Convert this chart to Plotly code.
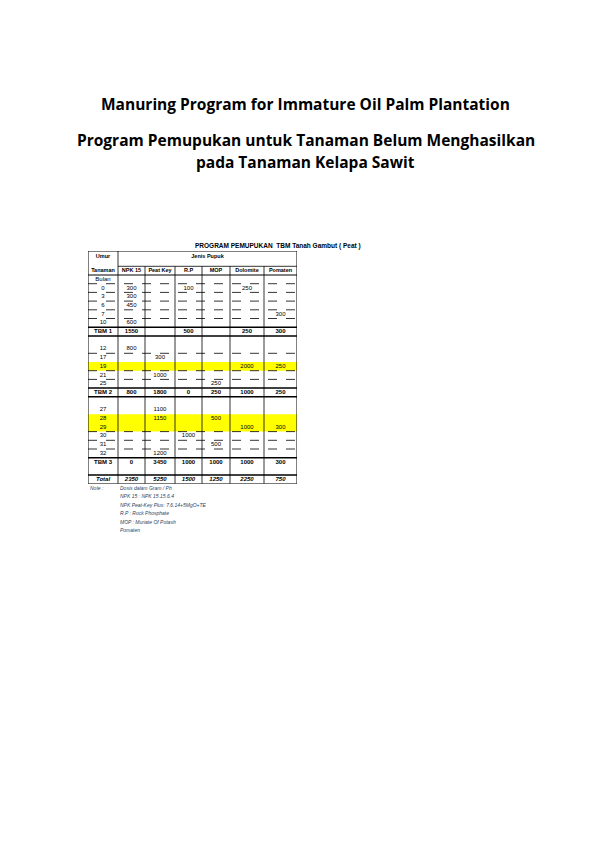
import plotly.graph_objects as go

W, H = 595, 842

umur = ["Bulan", "0", "3", "6", "7", "10", "TBM 1", "", "12", "17", "19", "21", "25", "TBM 2",
        "", "27", "28", "29", "30", "31", "32", "TBM 3", "", "Total"]
npk15 = ["", "300", "300", "450", "", "600", "1550", "", "800", "", "", "", "", "800",
         "", "", "", "", "", "", "", "0", "", "2350"]
peat_key = ["", "", "", "", "", "", "", "", "", "300", "", "1000", "", "1800",
            "", "1100", "1150", "", "", "", "1200", "3450", "", "5250"]
rp = ["", "100", "", "", "", "", "500", "", "", "", "", "", "", "0",
      "", "", "", "", "1000", "", "", "1000", "", "1500"]
mop = ["", "", "", "", "", "", "", "", "", "", "", "", "250", "250",
       "", "", "500", "", "", "500", "", "1000", "", "1250"]
dolomite = ["", "250", "", "", "", "", "250", "", "", "", "2000", "", "", "1000",
            "", "", "", "1000", "", "", "", "1000", "", "2250"]
pomaten = ["", "", "", "", "300", "", "300", "", "", "", "250", "", "", "250",
           "", "", "", "300", "", "", "", "300", "", "750"]
headers = ["NPK 15", "Peat Key", "R.P", "MOP", "Dolomite", "Pomaten"]
yellow_rows = ["19", "28", "29"]
notes = ["Dosis dalam Gram / Ph", "NPK 15 : NPK 15.15.6.4", "NPK Peat-Key Plus: 7.6.14+5MgO+TE",
         "R.P : Rock Phosphate", "MOP : Muriate Of Potash", "Pomaten"]

# column edges in px across the table width
edges = [0, 30, 57, 87, 114, 142, 176, 209]
centers = [(a + b) / 2 for a, b in zip(edges[:-1], edges[1:])]
ROW = 8.7
HDR = 24 / ROW  # header height in row units
n = len(umur)

x0, x1 = 80, 289
y0 = 243
y1 = y0 + 24 + n * ROW
FONT = "Liberation Sans"

fig = go.Figure()
cols = [umur, npk15, peat_key, rp, mop, dolomite, pomaten]
for c, vals in zip(centers, cols):
    txt = []
    for v, u in zip(vals, umur):
        if u == "Total":
            txt.append(f"<b><i>{v}</i></b>")
        elif u.startswith("TBM"):
            txt.append(f"<b>{v}</b>")
        else:
            txt.append(v)
    fig.add_trace(go.Scatter(x=[c] * n, y=[i + 0.5 for i in range(n)], mode="text", text=txt,
                             textfont=dict(family=FONT, size=6, color="black"),
                             hoverinfo="skip", showlegend=False))
# header texts
fig.add_trace(go.Scatter(x=centers[1:], y=[-0.5] * 6, mode="text",
                         text=[f"<b>{h}</b>" for h in headers],
                         textfont=dict(family=FONT, size=5.5, color="black"),
                         hoverinfo="skip", showlegend=False))
fig.add_trace(go.Scatter(x=[centers[0], centers[0], (edges[1] + edges[-1]) / 2],
                         y=[-HDR + 0.7, -0.5, -HDR + 0.7], mode="text",
                         text=["<b>Umur</b>", "<b>Tanaman</b>", "<b>Jenis Pupuk</b>"],
                         textfont=dict(family=FONT, size=5.5, color="black"),
                         hoverinfo="skip", showlegend=False))

shapes = []
for i, u in enumerate(umur):
    if u in yellow_rows:
        shapes.append(dict(type="rect", x0=0, x1=edges[-1], y0=i, y1=i + 1, fillcolor="#ffff00",
                           line=dict(width=0), layer="below"))
solid_thick = {umur.index("TBM 1"), umur.index("TBM 1") + 1, umur.index("TBM 2"),
               umur.index("TBM 2") + 1, umur.index("TBM 3"), n - 1, n}
for i in range(1, n):
    if i in solid_thick:
        shapes.append(dict(type="line", x0=0, x1=edges[-1], y0=i, y1=i, line=dict(color="black", width=1.5)))
    elif umur[i] and umur[i - 1] and umur[i] not in yellow_rows:
        shapes.append(dict(type="line", x0=0, x1=edges[-1], y0=i, y1=i,
                           line=dict(color="black", width=0.8, dash="dash")))
# outer frame and header lines
shapes.append(dict(type="rect", x0=0, x1=edges[-1], y0=-HDR, y1=n, line=dict(color="black", width=1)))
shapes.append(dict(type="line", x0=0, x1=edges[-1], y0=0, y1=0, line=dict(color="black", width=1)))
shapes.append(dict(type="line", x0=edges[1], x1=edges[-1], y0=-1, y1=-1, line=dict(color="black", width=0.8)))
for e in edges[1:-1]:
    yt = -HDR if e == edges[1] else -1
    shapes.append(dict(type="line", x0=e, x1=e, y0=yt, y1=n, line=dict(color="black", width=0.8)))

fig.update_layout(
    width=W, height=H, margin=dict(l=0, r=0, t=0, b=0),
    paper_bgcolor="white", plot_bgcolor="white", shapes=shapes,
    xaxis=dict(domain=[x0 / W, x1 / W], range=[0, edges[-1]], visible=False, fixedrange=True),
    yaxis=dict(domain=[1 - y1 / H, 1 - y0 / H], range=[n, -HDR], visible=False, fixedrange=True),
)

for text, y in [("<b>Manuring Program for Immature Oil Palm Plantation</b>", 83),
                ("<b>Program Pemupukan untuk Tanaman Belum Menghasilkan</b>", 119),
                ("<b>pada Tanaman Kelapa Sawit</b>", 141)]:
    fig.add_annotation(text=text, x=0.5, y=1 - y / H, xref="paper", yref="paper", showarrow=False,
                       font=dict(family="Open Sans", size=15.5, color="black"))
fig.add_annotation(text="<b>PROGRAM PEMUPUKAN  TBM Tanah Gambut ( Peat )</b>", x=(x0 + x1) / 2 / W,
                   y=1 - 232 / H, xref="paper", yref="paper", showarrow=False,
                   font=dict(family=FONT, size=6.5, color="black"))
fig.add_annotation(text="<i>Note :</i>", x=80 / W, y=1 - (y1 + 4) / H, xref="paper", yref="paper",
                   xanchor="left", showarrow=False, font=dict(family=FONT, size=5))
for i, t in enumerate(notes):
    fig.add_annotation(text=f"<i>{t}</i>", x=110 / W, y=1 - (y1 + 4 + 8.5 * i) / H, xref="paper",
                       yref="paper", xanchor="left", showarrow=False, font=dict(family=FONT, size=5))

fig.write_html("out.html")
